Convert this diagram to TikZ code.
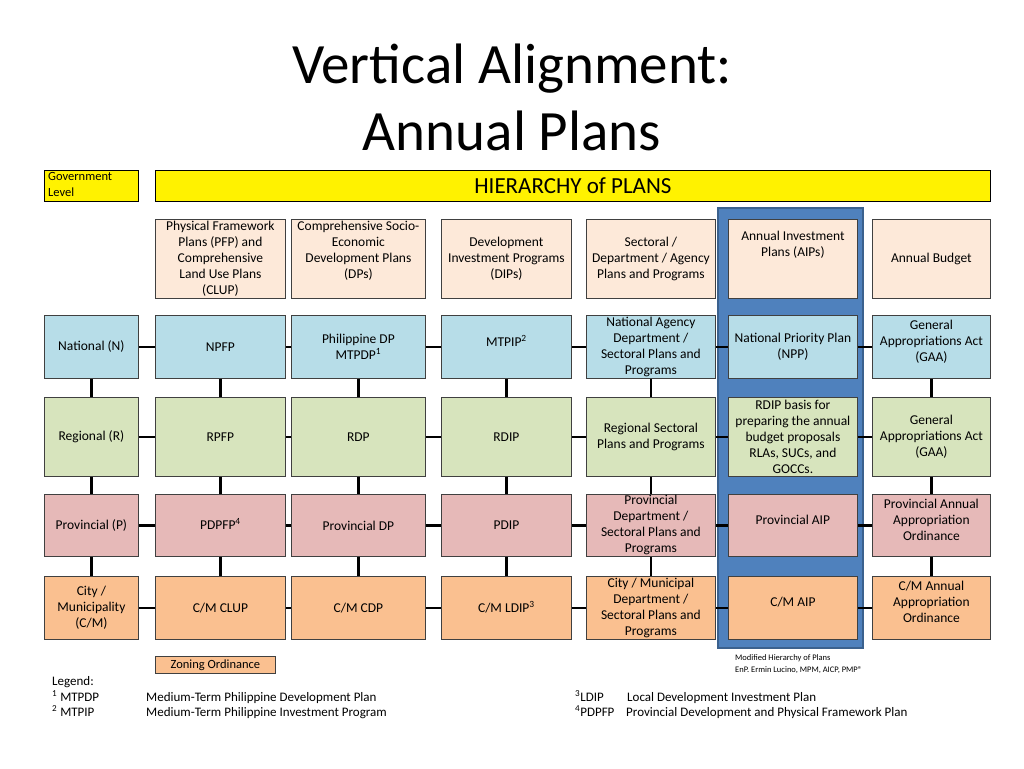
\documentclass[tikz,border=0pt]{standalone}
\usepackage{fontspec}
\setmainfont{Carlito}
\newcommand{\supr}[1]{\smash{\textsuperscript{#1}}}
\begin{document}
\begin{tikzpicture}[x=1pt,y=-1pt,
  bx/.style={draw=black!75,line width=0.8pt,minimum width=#1,align=center,font=\fontsize{13.5}{16}\selectfont,anchor=north west,inner sep=1pt},
  hd/.style={bx=#1,fill=headc,minimum height=79pt},
  conn/.style={line width=2.2pt,black}]
\definecolor{headc}{HTML}{FDE9D9}
\definecolor{natc}{HTML}{B7DDE8}
\definecolor{regc}{HTML}{D7E4BD}
\definecolor{proc}{HTML}{E6B9B8}
\definecolor{citc}{HTML}{FAC090}
\definecolor{bluec}{HTML}{4F81BD}
\useasboundingbox (0,0) rectangle (1024,768);
\node[font=\fontsize{57}{67}\selectfont,align=center] (title) at (512,97) {Vertical Alignment:\\Annual Plans};
\node[draw,fill=yellow,line width=0.8pt,anchor=north west,minimum width=94pt,minimum height=31pt,inner sep=0pt] (gl) at (44,170) {};
\node[anchor=north west,align=left,font=\fontsize{12.5}{16}\selectfont,inner sep=1pt] (glt) at (47,171) {Government\\Level};
\node[draw,fill=yellow,line width=0.8pt,anchor=north west,minimum width=835pt,minimum height=31pt,font=\fontsize{23}{25}\selectfont] (hier) at (155,170) {HIERARCHY of PLANS};
\fill[bluec] (718,208) rectangle (863,648);
\draw[line width=2pt,bluec!75!black] (718,208) rectangle (863,648);
\def\xa{44}\def\xb{155}\def\xc{291}\def\xd{441}\def\xe{586}\def\xf{728}\def\xg{872}
\node[hd=130pt] (h1) at (\xb,219) {Physical Framework\\Plans (PFP) and\\Comprehensive\\Land Use Plans\\(CLUP)};
\node[hd=134pt,text depth=18pt] (h2) at (\xc,219) {Comprehensive Socio-\\Economic\\Development Plans\\(DPs)};
\node[hd=130pt] (h3) at (\xd,219) {Development\\Investment Programs\\(DIPs)};
\node[hd=129pt] (h4) at (\xe,219) {Sectoral /\\Department / Agency\\Plans and Programs};
\node[hd=129pt,text depth=30pt] (h5) at (\xf,219) {Annual Investment\\Plans (AIPs)};
\node[hd=118pt] (h6) at (\xg,219) {Annual Budget};
\tikzset{rn/.style={bx=#1,fill=natc,minimum height=63pt},
 rr/.style={bx=#1,fill=regc,minimum height=79pt},
 rp/.style={bx=#1,fill=proc,minimum height=62pt},
 rc/.style={bx=#1,fill=citc,minimum height=63pt}}
\node[rn=94pt] (n0) at (\xa,315) {National (N)};
\node[rn=130pt] (n1) at (\xb,315) {NPFP};
\node[rn=134pt] (n2) at (\xc,315) {Philippine DP\\MTPDP\supr{1}};
\node[rn=130pt,text depth=10pt] (n3) at (\xd,315) {MTPIP\supr{2}};
\node[rn=129pt] (n4) at (\xe,315) {National Agency\\Department /\\Sectoral Plans and\\Programs};
\node[rn=129pt] (n5) at (\xf,315) {National Priority Plan\\(NPP)};
\node[rn=118pt,text depth=12pt] (n6) at (\xg,315) {General\\Appropriations Act\\(GAA)};
\node[rr=94pt] (r0) at (\xa,397) {Regional (R)};
\node[rr=130pt] (r1) at (\xb,397) {RPFP};
\node[rr=134pt] (r2) at (\xc,397) {RDP};
\node[rr=130pt] (r3) at (\xd,397) {RDIP};
\node[rr=129pt] (r4) at (\xe,397) {Regional Sectoral\\Plans and Programs};
\node[rr=129pt] (r5) at (\xf,397) {RDIP basis for\\preparing the annual\\budget proposals\\RLAs, SUCs, and\\GOCCs.};
\node[rr=118pt] (r6) at (\xg,397) {General\\Appropriations Act\\(GAA)};
\node[rp=94pt] (p0) at (\xa,494) {Provincial (P)};
\node[rp=130pt] (p1) at (\xb,494) {PDPFP\supr{4}};
\node[rp=134pt] (p2) at (\xc,494) {Provincial DP};
\node[rp=130pt] (p3) at (\xd,494) {PDIP};
\node[rp=129pt] (p4) at (\xe,494) {Provincial\\Department /\\Sectoral Plans and\\Programs};
\node[rp=129pt,text depth=12pt] (p5) at (\xf,494) {Provincial AIP};
\node[rp=118pt,text depth=12pt] (p6) at (\xg,494) {Provincial Annual\\Appropriation\\Ordinance};
\node[rc=94pt] (c0) at (\xa,576) {City /\\Municipality\\(C/M)};
\node[rc=130pt] (c1) at (\xb,576) {C/M CLUP};
\node[rc=134pt] (c2) at (\xc,576) {C/M CDP};
\node[rc=130pt] (c3) at (\xd,576) {C/M LDIP\supr{3}};
\node[rc=129pt] (c4) at (\xe,576) {City / Municipal\\Department /\\Sectoral Plans and\\Programs};
\node[rc=129pt,text depth=12pt] (c5) at (\xf,576) {C/M AIP};
\node[rc=118pt,text depth=12pt] (c6) at (\xg,576) {C/M Annual\\Appropriation\\Ordinance};
\foreach \r in {n,r,p,c}{
  \foreach \a/\b in {0/1,1/2,2/3,3/4,4/5,5/6}{\draw[conn] (\r\a.east) -- (\r\b.west);}
}
\foreach \a/\b in {n/r,r/p,p/c}{
  \foreach \i in {0,1,2,3,4,6}{\draw[conn] (\a\i.south) -- (\b\i.north);}
}
\node[bx=120pt,fill=citc,minimum height=17pt,font=\fontsize{12.5}{13}\selectfont] (zo) at (155,656) {Zoning Ordinance};
\node[anchor=west,font=\fontsize{8.5}{10}\selectfont,align=left,inner sep=0pt] (mod) at (735,664) {Modified Hierarchy of Plans\\[2pt]EnP. Ermin Lucino, MPM, AICP, PMP\textregistered};
\begin{scope}[every node/.style={anchor=base west,inner sep=0pt,font=\fontsize{13}{14}\selectfont}]
\node (lg) at (52,685) {Legend:};
\node (l1) at (52,701) {\supr{1} MTPDP};
\node (l1d) at (146,701) {Medium-Term Philippine Development Plan};
\node (l2) at (52,716) {\supr{2} MTPIP};
\node (l2d) at (146,716) {Medium-Term Philippine Investment Program};
\node (l3) at (575,701) {\supr{3}LDIP};
\node (l3d) at (627,701) {Local Development Investment Plan};
\node (l4) at (575,716) {\supr{4}PDPFP};
\node (l4d) at (626,716) {Provincial Development and Physical Framework Plan};
\end{scope}
\end{tikzpicture}
\end{document}
